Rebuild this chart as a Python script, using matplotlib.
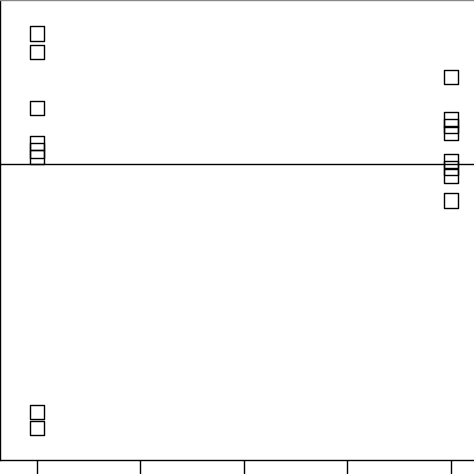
import matplotlib
matplotlib.use("Agg")
import matplotlib.pyplot as plt

x_left = [1]*8
y_left = [1.98, 1.70, 0.85, 0.32, 0.21, 0.11, -3.76, -4.0]
x_right = [5]*8
y_right = [1.32, 0.68, 0.58, 0.47, 0.05, -0.06, -0.18, -0.55]
xticks = [1, 2, 3, 4, 5]
yticks = [2, 1, 0, -1, -2, -3, -4]

fig = plt.figure(figsize=(4.74, 4.74), dpi=100)
ax = fig.add_axes([0.0, 0.0295, 0.9995, 0.9700])
ax.scatter(x_left + x_right, y_left + y_right, marker='s', s=110,
           facecolors='none', edgecolors='black', linewidths=1.0, zorder=3)
ax.axhline(0, color='black', lw=1.0)
ax.set_xlim(0.643, 5.22)
ax.set_ylim(-4.485, 2.485)
ax.set_xticks(xticks)
ax.set_yticks(yticks)
ax.set_xticklabels([])
ax.set_yticklabels([])
ax.tick_params(axis='x', direction='out', length=14, width=1)
ax.tick_params(axis='y', direction='out', length=6, width=1)
for s in ax.spines.values():
    s.set_linewidth(1.0)
ax.spines['top'].set_color('#888888')
ax.spines['right'].set_visible(False)
fig.savefig("out.png", dpi=100)
